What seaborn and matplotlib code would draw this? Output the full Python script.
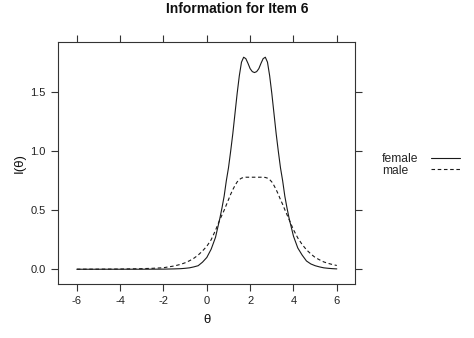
import numpy as np
import pandas as pd
import matplotlib
matplotlib.use("Agg")
import matplotlib.pyplot as plt
import seaborn as sns

# ---- data ----
theta_female = [-6.0, -5.0, -4.0, -3.0, -2.5, -2.0, -1.5, -1.2, -1.0, -0.8, -0.6, -0.4, -0.2,
                0.0, 0.2, 0.4, 0.6, 0.7, 0.8, 0.9, 1.0, 1.1, 1.2, 1.3, 1.4, 1.5, 1.6, 1.7,
                1.8, 1.9, 2.0, 2.1, 2.2, 2.3, 2.4, 2.5, 2.6, 2.7, 2.8, 2.9, 3.0, 3.1, 3.2,
                3.3, 3.4, 3.5, 3.6, 3.7, 3.8, 4.0, 4.2, 4.4, 4.6, 4.8, 5.0, 5.2, 5.4, 5.6,
                5.8, 6.0]
info_female = [0.0, 0.0, 0.0001, 0.0003, 0.0006, 0.001, 0.003, 0.005, 0.008, 0.012, 0.02, 0.03, 0.06,
               0.10, 0.17, 0.27, 0.43, 0.52, 0.62, 0.75, 0.86, 1.00, 1.15, 1.32, 1.49, 1.64, 1.755, 1.797,
               1.785, 1.745, 1.70, 1.675, 1.667, 1.675, 1.70, 1.745, 1.785, 1.797, 1.755, 1.64, 1.49, 1.32, 1.15,
               1.00, 0.86, 0.75, 0.62, 0.52, 0.43, 0.28, 0.18, 0.12, 0.07, 0.045, 0.03, 0.02, 0.012, 0.008,
               0.005, 0.003]

theta_male = [-6.0, -5.0, -4.0, -3.0, -2.5, -2.0, -1.5, -1.2, -1.0, -0.8, -0.6, -0.4, -0.2,
              0.0, 0.2, 0.4, 0.6, 0.8, 0.9, 1.0, 1.1, 1.2, 1.3, 1.4, 1.5, 1.6, 1.7, 1.8,
              2.2, 2.6, 2.7, 2.8, 2.9, 3.0, 3.1, 3.2, 3.3, 3.4, 3.5, 3.6, 3.8, 4.0, 4.2,
              4.4, 4.6, 4.8, 5.0, 5.2, 5.4, 5.6, 5.8, 6.0]
info_male = [0.0005, 0.001, 0.002, 0.005, 0.008, 0.013, 0.028, 0.042, 0.055, 0.072, 0.093, 0.12, 0.155,
             0.195, 0.25, 0.33, 0.42, 0.50, 0.545, 0.59, 0.635, 0.675, 0.71, 0.74, 0.76, 0.772, 0.778, 0.78,
             0.78, 0.78, 0.778, 0.772, 0.76, 0.74, 0.71, 0.675, 0.635, 0.59, 0.55, 0.505, 0.42, 0.335, 0.265,
             0.21, 0.165, 0.13, 0.10, 0.08, 0.062, 0.05, 0.04, 0.032]

groups = ["female", "male"]
x_ticks = [-6, -4, -2, 0, 2, 4, 6]
y_ticks = [0.0, 0.5, 1.0, 1.5]
y_tick_labels = ["0.0", "0.5", "1.0", "1.5"]
title = "Information for Item 6"
x_label = "\u03b8"
y_label = "I(\u03b8)"

sns.set_theme(style="ticks")
plt.rcParams["font.family"] = ["Liberation Sans", "DejaVu Sans"]
plt.rcParams["axes.unicode_minus"] = False

df = pd.concat([
    pd.DataFrame({"theta": theta_female, "info": info_female, "group": groups[0]}),
    pd.DataFrame({"theta": theta_male, "info": info_male, "group": groups[1]}),
], ignore_index=True)

W, H = 474, 338
fig = plt.figure(figsize=(W / 100, H / 100), dpi=100)
ax = fig.add_axes([58 / W, 1 - 284 / H, 297 / W, 242 / H])

sns.lineplot(data=df, x="theta", y="info", hue="group", style="group",
             hue_order=groups, style_order=groups,
             palette={"female": "#1a1a1a", "male": "#1a1a1a"},
             dashes={"female": "", "male": (3.2, 2.4)},
             estimator=None, sort=False, linewidth=0.8, ax=ax)

ax.set_xlim(-6.87, 6.84)
ax.set_ylim(-0.125, 1.926)
ax.set_xticks(x_ticks)
ax.set_xticklabels([str(t) for t in x_ticks])
ax.set_yticks(y_ticks)
ax.set_yticklabels(y_tick_labels)
ax.tick_params(axis="both", which="both", direction="out", length=5, width=0.8,
               color="#333333", labelsize=8, labelcolor="#222222", pad=4,
               top=True, right=True, labeltop=False, labelright=False)
for s in ax.spines.values():
    s.set_color("#333333")
    s.set_linewidth(0.8)

ax.set_xlabel(x_label, fontsize=9.5, color="#111111")
ax.set_ylabel(y_label, fontsize=9.5, color="#111111")
ax.xaxis.set_label_coords(0.5, -0.125)
ax.yaxis.set_label_coords(-0.11, 0.5)

fig.suptitle(title, x=0.5, y=1 - 2 / H, va="top", fontsize=10, fontweight="bold", color="#111111")

sns.move_legend(ax, loc="center left", bbox_to_anchor=(382 / W, 1 - 165 / H),
                bbox_transform=fig.transFigure, frameon=False, title=None,
                markerfirst=False, handlelength=2.4, handletextpad=1.0,
                labelspacing=-0.05, borderpad=0, borderaxespad=0, fontsize=8.7)

# left-align legend labels while keeping the keys aligned on the right
leg = ax.get_legend()
fig.canvas.draw()
r = fig.canvas.get_renderer()
widths = [t.get_window_extent(r).width for t in leg.get_texts()]
maxw = max(widths)
rows = leg._legend_handle_box.get_children()[0].get_children()
for row, w in zip(rows, widths):
    row.sep += (maxw - w) * 72.0 / fig.dpi

fig.savefig("out.png", dpi=100)
